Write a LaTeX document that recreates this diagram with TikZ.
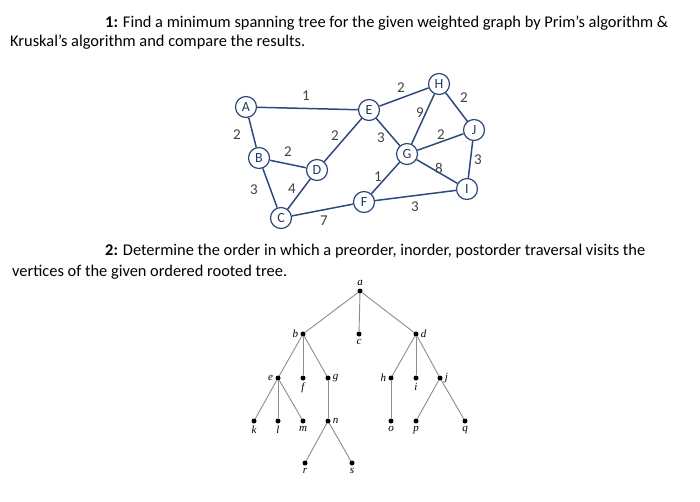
\documentclass[tikz,border=0pt]{standalone}
\usepackage{fontspec}
\usetikzlibrary{backgrounds}
\setmainfont{Carlito}
\newfontfamily\treefont{Liberation Serif}
\begin{document}
\begin{tikzpicture}[x=1pt,y=-1pt,
  gv/.style={circle,draw=gblue,fill=white,line width=1.2pt,minimum size=21pt,inner sep=0pt,font=\fontsize{14}{15}\selectfont,text=gblue!80!black},
  ge/.style={draw=gblue,line width=1.5pt},
  wl/.style={font=\fontsize{15}{16}\selectfont,text=black!75},
  tv/.style={circle,fill=black,inner sep=0pt,minimum size=5pt},
  te/.style={draw=black!45,line width=0.9pt},
  tl/.style={font=\treefont\itshape\fontsize{11}{12}\selectfont,inner sep=2pt},
  txt/.style={anchor=base west,inner sep=0pt,font=\fontsize{16.4}{18}\selectfont}]
\definecolor{gblue}{HTML}{2E4A7D}
\useasboundingbox (0,0) rectangle (700,501);
\node[txt] (t1) at (105,27) {\textbf{1:} Find a minimum spanning tree for the given weighted graph by Prim's algorithm \&};
\node[txt] (t2) at (10,46) {Kruskal's algorithm and compare the results.};
\node[txt] (t3) at (105,255) {\textbf{2:} Determine the order in which a preorder, inorder, postorder traversal visits the};
\node[txt] (t4) at (12,276) {vertices of the given ordered rooted tree.};
% graph
\node[gv] (A) at (246,107) {A};
\node[gv] (E) at (369,110) {E};
\node[gv] (H) at (439,84) {H};
\node[gv] (J) at (474,130) {J};
\node[gv] (B) at (259,158) {B};
\node[gv] (D) at (317,170) {D};
\node[gv] (G) at (407,154) {G};
\node[gv] (I) at (467,189) {I};
\node[gv] (F) at (364,202) {F};
\node[gv] (C) at (281,218) {C};
\begin{pgfonlayer}{background}
\path[ge] (A) -- (E); \path[ge] (A) -- (B); \path[ge] (B) -- (D); \path[ge] (B) -- (C);
\path[ge] (D) -- (E); \path[ge] (D) -- (C); \path[ge] (C) -- (F); \path[ge] (E) -- (H);
\path[ge] (E) -- (G); \path[ge] (H) -- (G); \path[ge] (H) -- (J); \path[ge] (G) -- (J);
\path[ge] (G) -- (I); \path[ge] (J) -- (I); \path[ge] (F) -- (G); \path[ge] (F) -- (I);
\end{pgfonlayer}
\node[wl] (w1) at (306,96) {1};
\node[wl] (w2) at (237,135) {2};
\node[wl] (w3) at (288,152) {2};
\node[wl] (w4) at (254,190) {3};
\node[wl] (w5) at (292,189) {4};
\node[wl] (w6) at (335,136) {2};
\node[wl] (w7) at (324,221) {7};
\node[wl] (w8) at (401,88) {2};
\node[wl] (w9) at (381,138) {3};
\node[wl] (w10) at (420,113) {9};
\node[wl] (w11) at (464,98) {2};
\node[wl] (w12) at (441,135) {2};
\node[wl] (w13) at (439,168) {8};
\node[wl] (w14) at (478,160) {3};
\node[wl] (w15) at (378,177) {1};
\node[wl] (w16) at (415,207) {3};
% tree
\foreach \n/\x/\y in {a/360/291,b/303/334,c/359/334,d/416/334,e/278/378,f/303/378,g/328/378,h/391/378,i/416/378,j/440/378,k/254/421,l/278/421,m/303/421,n/328/421,o/391/421,p/416/421,q/465/421,r/305/463,s/352/463}
  \node[tv] (\n) at (\x,\y) {};
\begin{pgfonlayer}{background}
\foreach \u/\v in {a/b,a/c,a/d,b/e,b/f,b/g,d/h,d/i,d/j,e/k,e/l,e/m,g/n,h/o,j/p,j/q,n/r,n/s}
  \path[te] (\u) -- (\v);
\end{pgfonlayer}
\node[tl,above] at (a.north) {a};
\node[tl,left] at (b.west) {b};
\node[tl,below] at (c.south) {c};
\node[tl,right] at (d.east) {d};
\node[tl,left] at (e.west) {e};
\node[tl,below] at (f.south) {f};
\node[tl,right] at (g.east) {g};
\node[tl,left] at (h.west) {h};
\node[tl,below] at (i.south) {i};
\node[tl,right] at (j.east) {j};
\node[tl,below] at (k.south) {k};
\node[tl,below] at (l.south) {l};
\node[tl,below] at (m.south) {m};
\node[tl,right] at (n.east) {n};
\node[tl,below] at (o.south) {o};
\node[tl,below] at (p.south) {p};
\node[tl,below] at (q.south) {q};
\node[tl,below] at (r.south) {r};
\node[tl,below] at (s.south) {s};
\end{tikzpicture}
\end{document}
